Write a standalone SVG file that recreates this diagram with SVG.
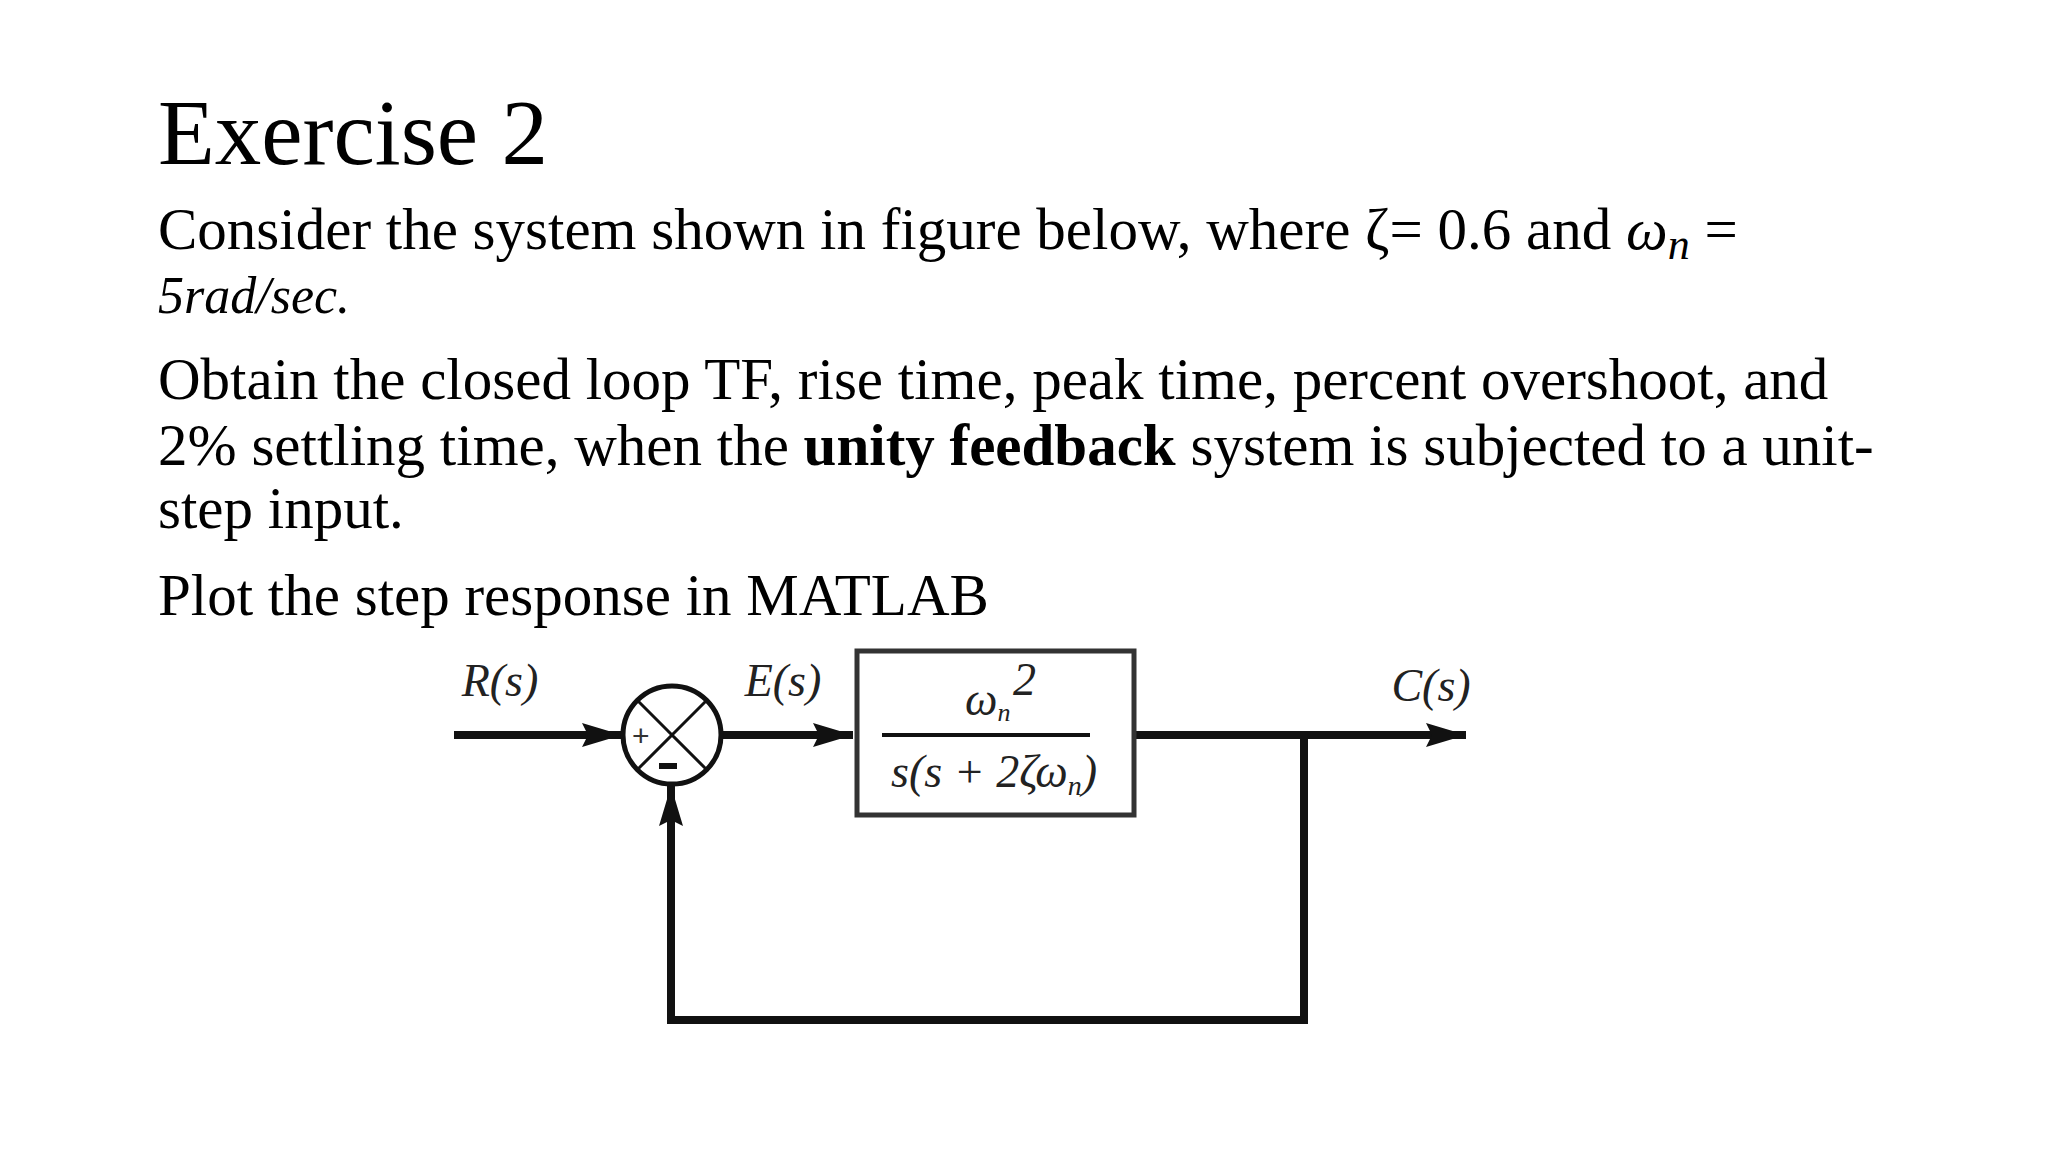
<svg xmlns="http://www.w3.org/2000/svg" width="2048" height="1152" viewBox="0 0 2048 1152">
<style>
.t{font-family:"Liberation Serif",serif;fill:#000}
.b{font-size:59px}
.d{font-family:"Liberation Serif",serif;font-style:italic;font-size:46px;fill:#222}
.w{stroke:#111;stroke-width:8;fill:none}
</style>
<defs>
<marker id="h" viewBox="0 0 40 24" refX="40" refY="12" markerWidth="40" markerHeight="24" orient="auto" markerUnits="userSpaceOnUse"><path d="M0,0L40,12L0,24L6,12z" fill="#111"/></marker></defs>
<rect width="2048" height="1152" fill="#fff"/>
<text class="t" x="158" y="164" font-size="93">Exercise 2</text>
<text class="t b" x="158" y="249">Consider the system shown in figure below, where ζ= 0.6 and <tspan font-style="italic">ω</tspan><tspan font-style="italic" font-size="44" dy="10">n</tspan><tspan dy="-10"> =</tspan></text>
<text class="t" x="158" y="313" font-style="italic" font-family="DejaVu Serif, serif" font-size="52">5rad/sec.</text>
<text class="t b" x="158" y="399">Obtain the closed loop TF, rise time, peak time, percent overshoot, and</text>
<text class="t b" x="158" y="465">2% settling time, when the <tspan font-weight="bold">unity feedback</tspan> system is subjected to a unit-</text>
<text class="t b" x="158" y="528">step input.</text>
<text class="t b" x="158" y="615">Plot the step response in MATLAB</text>
<g transform="translate(-5,-7)">
<g id="connectors">
<line class="w" x1="459" y1="742" x2="627" y2="742" marker-end="url(#h)"/>
<line class="w" x1="726" y1="742" x2="858" y2="742" marker-end="url(#h)"/>
<polyline class="w" points="1141,742 1471,742" marker-end="url(#h)"/>
<polyline class="w" points="1309,742 1309,1027 676,1027 676,793" marker-end="url(#h)"/>
</g>
<g id="sum">
<circle cx="677" cy="742" r="49" fill="#fff" stroke="#111" stroke-width="5"/>
<line x1="642" y1="707" x2="712" y2="777" stroke="#111" stroke-width="3"/>
<line x1="712" y1="707" x2="642" y2="777" stroke="#111" stroke-width="3"/>
<text x="637" y="753" font-family="Liberation Sans,sans-serif" font-size="30" fill="#333">+</text>
<rect x="664" y="770" width="18" height="6" fill="#111"/>
</g>
<g id="block">
<rect x="862" y="658" width="277" height="164" fill="#fff" stroke="#333" stroke-width="5"/>
<text class="d" x="970" y="722">ω<tspan font-size="26" dy="6">n</tspan></text>
<text class="d" x="1018" y="702" font-size="26">2</text>
<line x1="887" y1="742" x2="1095" y2="742" stroke="#111" stroke-width="4"/>
<text class="d" x="999" y="794" text-anchor="middle">s(s + 2ζω<tspan font-size="28" dy="8">n</tspan><tspan dy="-8">)</tspan></text>
</g>
<g id="labels">
<text class="d" x="505" y="703" text-anchor="middle">R(s)</text>
<text class="d" x="788" y="703" text-anchor="middle">E(s)</text>
<text class="d" x="1436" y="708" text-anchor="middle">C(s)</text>
</g>
</g>
</svg>
